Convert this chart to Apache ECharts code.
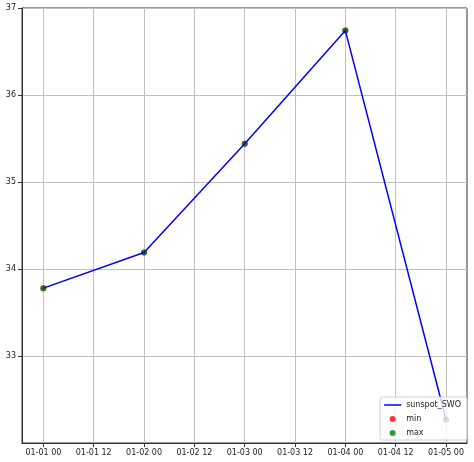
<!DOCTYPE html>
<html>
<head>
<meta charset="utf-8">
<script src="https://cdn.jsdelivr.net/npm/echarts@6/dist/echarts.min.js"></script>
<style>
  html, body { margin: 0; padding: 0; background: #fff; }
  #chart { width: 474px; height: 462px; }
</style>
</head>
<body>
<div id="chart"></div>
<script>
// hours since 01-01 00
const hours = [0, 24, 48, 72, 96];
const sunspot = [33.78, 34.19, 35.44, 36.74, 32.27];
const minValues = [33.78, 34.19, 35.44, 36.74, 32.27];
const maxValues = [33.78, 34.19, 35.44, 36.74, 32.27];

const xTickValues = [0, 12, 24, 36, 48, 60, 72, 84, 96];
const xTickLabels = ['01-01 00', '01-01 12', '01-02 00', '01-02 12', '01-03 00',
                     '01-03 12', '01-04 00', '01-04 12', '01-05 00'];
const yTickValues = [33, 34, 35, 36, 37];

const chart = echarts.init(document.getElementById('chart'));

const pairs = arr => hours.map((h, i) => [h, arr[i]]);
const font = 'DejaVu Sans';

const option = {
    animation: false,
    textStyle: { fontFamily: font },
    grid: {
        left: 22, right: 7, top: 8, bottom: 19,
        show: true, borderColor: '#333', borderWidth: 1
    },
    xAxis: {
        type: 'value',
        min: -5.1,
        max: 101,
        axisLine: { onZero: false, lineStyle: { color: '#333', width: 1 } },
        axisTick: { customValues: xTickValues, length: 4, lineStyle: { color: '#333' } },
        axisLabel: {
            customValues: xTickValues,
            fontSize: 8,
            color: '#222',
            margin: 6,
            formatter: v => xTickLabels[xTickValues.indexOf(v)] || ''
        },
        splitLine: { show: true, lineStyle: { color: '#c0c0c0', width: 1 } }
    },
    yAxis: {
        type: 'value',
        min: 32,
        max: 37,
        axisLine: { show: true, onZero: false, lineStyle: { color: '#333', width: 1 } },
        axisTick: { show: true, customValues: yTickValues, length: 4, lineStyle: { color: '#333' } },
        axisLabel: { customValues: yTickValues, fontSize: 8, color: '#222', margin: 6 },
        splitLine: { show: true, lineStyle: { color: '#c0c0c0', width: 1 } }
    },
    legend: {
        orient: 'vertical',
        right: 7,
        bottom: 22,
        itemWidth: 17,
        itemHeight: 6,
        itemGap: 6,
        padding: [4, 6, 3, 4],
        backgroundColor: 'rgba(255,255,255,0.8)',
        borderColor: '#d0d0d0',
        borderWidth: 1,
        borderRadius: 2,
        textStyle: { fontSize: 8, color: '#222', fontFamily: font },
        data: [
            { name: 'sunspot_SWO', icon: 'path://M0,0 L17,0 L17,1.5 L0,1.5 Z' },
            { name: 'min', icon: 'circle' },
            { name: 'max', icon: 'circle' }
        ]
    },
    series: [
        {
            name: 'sunspot_SWO',
            type: 'line',
            data: pairs(sunspot),
            symbol: 'none',
            lineStyle: { color: '#0000ff', width: 1.5 },
            itemStyle: { color: '#0000ff' }
        },
        {
            name: 'min',
            type: 'scatter',
            data: pairs(minValues),
            symbolSize: 6,
            itemStyle: { color: '#ff0000' }
        },
        {
            name: 'max',
            type: 'scatter',
            data: pairs(maxValues),
            symbolSize: 6,
            itemStyle: { color: '#008000' }
        }
    ]
};

chart.setOption(option);
</script>
</body>
</html>
